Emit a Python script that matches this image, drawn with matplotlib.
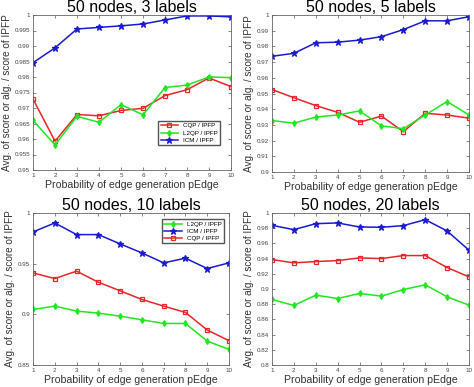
import matplotlib
matplotlib.use("Agg")
import matplotlib.pyplot as plt
import numpy as np

plt.rcParams["font.family"] = ["Liberation Sans", "DejaVu Sans"]

x = list(range(1, 11))

# 50 nodes, 3 labels
cqp_3 = [0.9729, 0.9593, 0.9679, 0.9675, 0.9692, 0.9699, 0.9740, 0.9759, 0.9797, 0.9769]
l2qp_3 = [0.9660, 0.9581, 0.9673, 0.9654, 0.9711, 0.9678, 0.9766, 0.9774, 0.9800, 0.9798]
icm_3 = [0.9846, 0.9894, 0.9955, 0.9960, 0.9965, 0.9971, 0.9984, 0.9997, 0.9997, 0.9994]

# 50 nodes, 5 labels
cqp_5 = [0.9525, 0.9473, 0.9423, 0.9380, 0.9317, 0.9356, 0.9257, 0.9374, 0.9363, 0.9343]
l2qp_5 = [0.9328, 0.9311, 0.9350, 0.9363, 0.9389, 0.9294, 0.9276, 0.9363, 0.9449, 0.9363]
icm_5 = [0.9737, 0.9756, 0.9823, 0.9827, 0.9840, 0.9862, 0.9907, 0.9963, 0.9963, 0.9989]

# 50 nodes, 10 labels
cqp_10 = [0.9409, 0.9353, 0.9426, 0.9317, 0.9232, 0.9147, 0.9081, 0.9019, 0.8845, 0.8740]
l2qp_10 = [0.9048, 0.9081, 0.9032, 0.9012, 0.8982, 0.8946, 0.8910, 0.8910, 0.8736, 0.8654]
icm_10 = [0.9813, 0.9902, 0.9787, 0.9787, 0.9695, 0.9606, 0.9508, 0.9554, 0.9452, 0.9508]

# 50 nodes, 20 labels
cqp_20 = [0.9387, 0.9344, 0.9361, 0.9374, 0.9409, 0.9400, 0.9440, 0.9440, 0.9282, 0.9160]
l2qp_20 = [0.8862, 0.8783, 0.8919, 0.8875, 0.8941, 0.8906, 0.8993, 0.9055, 0.8897, 0.8788]
icm_20 = [0.9838, 0.9781, 0.9860, 0.9869, 0.9816, 0.9812, 0.9834, 0.9912, 0.9764, 0.9510]

titles = ["50 nodes, 3 labels", "50 nodes, 5 labels", "50 nodes, 10 labels", "50 nodes, 20 labels"]
xlabel = "Probability of edge generation pEdge"
ylabel = "Avg. of score or alg. / score of IPFP"

RED = "#e8262a"
GREEN = "#22e622"
BLUE = "#1a1ad0"

fig = plt.figure(figsize=(4.74, 3.87), dpi=100)
W, H = 474, 387
boxes = [(33, 15, 231, 170), (272, 15, 469, 172), (33, 213, 229, 365), (272, 213, 469, 365)]


def make_ax(box):
    l, t, r, b = box
    return fig.add_axes([l / W, 1 - b / H, (r - l) / W, (b - t) / H])


def style(ax, title, ylim, yticks, ylabels):
    ax.set_xlim(1, 10)
    ax.set_xticks(x)
    ax.set_xticklabels([str(v) for v in x])
    ax.set_ylim(*ylim)
    ax.set_yticks(yticks)
    ax.set_yticklabels(ylabels)
    ax.tick_params(direction="in", length=2.5, width=0.5, labelsize=4.5, pad=2, colors="#555555",
                   top=True, right=True, labelcolor="#444444")
    for s in ax.spines.values():
        s.set_linewidth(0.6)
        s.set_color("#666666")
    ax.set_title(title, fontsize=11.5, pad=2)
    ax.set_xlabel(xlabel, fontsize=7.6, labelpad=1.5, color="#333333")
    ax.set_ylabel(ylabel, fontsize=7.2, labelpad=2, color="#333333")


def draw(ax, series, order):
    for name in order:
        y, color, marker, ms, label = series[name]
        ax.plot(x, y, color=color, marker=marker, markersize=ms,
                markerfacecolor="none" if marker == "s" else color,
                markeredgewidth=0.9, linewidth=1.1, label=label)


panels = [
    (cqp_3, l2qp_3, icm_3, (0.95, 1.0), np.arange(0.95, 1.0001, 0.005),
     ["0.95", "0.955", "0.96", "0.965", "0.97", "0.975", "0.98", "0.985", "0.99", "0.995", "1"]),
    (cqp_5, l2qp_5, icm_5, (0.9, 1.0), np.arange(0.9, 1.0001, 0.01),
     ["0.9", "0.91", "0.92", "0.93", "0.94", "0.95", "0.96", "0.97", "0.98", "0.99", "1"]),
    (cqp_10, l2qp_10, icm_10, (0.85, 1.0), [0.85, 0.9, 0.95, 1.0],
     ["0.85", "0.9", "0.95", "1"]),
    (cqp_20, l2qp_20, icm_20, (0.8, 1.0), np.arange(0.8, 1.0001, 0.02),
     ["0.8", "0.82", "0.84", "0.86", "0.88", "0.9", "0.92", "0.94", "0.96", "0.98", "1"]),
]

legend_kw = dict(fontsize=4.5, frameon=True, fancybox=False, edgecolor="#555555",
                 handlelength=2.8, borderpad=0.35, labelspacing=0.3, framealpha=1)

for i, (cqp, l2qp, icm, ylim, yticks, ylabels) in enumerate(panels):
    ax = make_ax(boxes[i])
    series = {
        "cqp": (cqp, RED, "s", 3.5, "CQP / IPFP"),
        "l2qp": (l2qp, GREEN, "d", 3.0, "L2QP / IPFP"),
        "icm": (icm, BLUE, "*", 4.5, "ICM / IPFP"),
    }
    draw(ax, series, ["cqp", "l2qp", "icm"])
    style(ax, titles[i], ylim, yticks, ylabels)
    h, lab = ax.get_legend_handles_labels()
    if i == 0:
        ax.legend(h, lab, loc="lower right", bbox_to_anchor=(0.96, 0.14), **legend_kw)
    elif i == 2:
        order = [1, 2, 0]
        ax.legend([h[k] for k in order], [lab[k] for k in order], loc="upper right",
                  bbox_to_anchor=(0.99, 0.98), **legend_kw)

fig.savefig("out.png", dpi=100)
